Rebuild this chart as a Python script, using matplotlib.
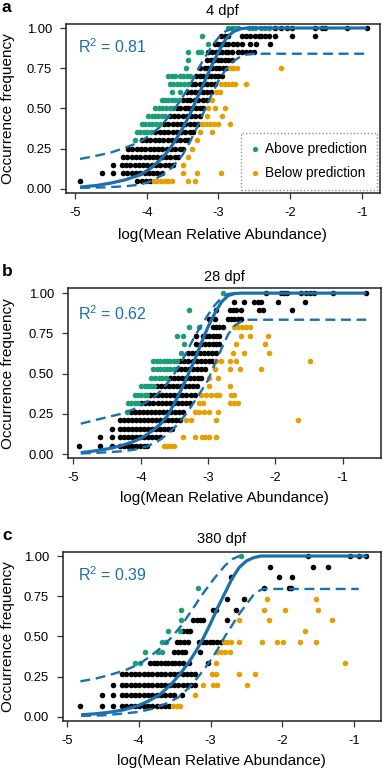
import matplotlib.pyplot as plt
from matplotlib.lines import Line2D

plt.rcParams['font.family'] = ['Liberation Sans', 'DejaVu Sans']
plt.rcParams['axes.unicode_minus'] = False
plt.rcParams['mathtext.fontset'] = 'custom'
plt.rcParams['mathtext.rm'] = 'Liberation Sans'
plt.rcParams['mathtext.it'] = 'Liberation Sans'
plt.rcParams['mathtext.default'] = 'regular'

GREEN = '#1b9e77'
ORANGE = '#e69f00'
BLUE = '#1a6fae'

# ---------------- panel a : 4 dpf (20 samples) ----------------
N_A = 20
A_BLACK = {
    1: [-4.93, -4.13, -4.07, -4.01, -3.96],
    2: [-4.63, -4.47, -4.33, -4.27, -4.21, -4.15, -4.09, -4.03, -3.97, -3.91, -3.85, -3.79],
    3: [-4.47, -4.35, -4.29, -4.23, -4.17, -4.11, -4.05, -3.99, -3.93, -3.87, -3.81, -3.75, -3.69, -3.64],
    4: [-4.33, -4.27, -4.21, -4.15, -4.09, -4.03, -3.97, -3.91, -3.85, -3.79, -3.73, -3.67, -3.61, -3.56],
    5: [-4.26, -4.20, -4.14, -4.08, -4.02, -3.96, -3.90, -3.84, -3.78, -3.72, -3.66, -3.60, -3.54, -3.49],
    6: [-4.07, -4.01, -3.95, -3.89, -3.83, -3.77, -3.71, -3.65, -3.59, -3.53, -3.47, -3.42],
    7: [-3.88, -3.82, -3.76, -3.70, -3.64, -3.58, -3.52, -3.46, -3.40, -3.35],
    8: [-3.76, -3.70, -3.64, -3.58, -3.52, -3.46, -3.40, -3.34, -3.29],
    9: [-3.68, -3.62, -3.56, -3.50, -3.44, -3.38, -3.32, -3.26],
    10: [-3.58, -3.53, -3.47, -3.42, -3.37, -3.31, -3.26, -3.21],
    11: [-3.50, -3.44, -3.39, -3.33, -3.28, -3.22, -3.16],
    12: [-3.44, -3.38, -3.33, -3.27, -3.22, -3.16, -3.11],
    13: [-3.37, -3.32, -3.26, -3.21, -3.16, -3.10, -3.05],
    14: [-3.31, -3.26, -3.21, -3.15, -3.10, -3.05, -3.00, -2.95],
    15: [-3.25, -3.19, -3.14, -3.09, -3.04, -2.99, -2.94, -2.90],
    16: [-3.16, -3.11, -3.06, -3.01, -2.96, -2.91, -2.86, -2.81],
    17: [-3.14, -3.09, -3.04, -2.99, -2.95, -2.90, -2.86, -2.81, -2.72, -2.67, -2.61, -2.56, -2.51],
    18: [-3.05, -3.00, -2.95, -2.91, -2.86, -2.79, -2.74, -2.67, -2.56, -2.47, -2.28],
    19: [-2.96, -2.91, -2.86, -2.67, -2.62, -2.56, -2.49, -2.44, -2.40, -2.35, -2.30, -2.21, -1.98, -1.65],
    20: [-2.21, -2.12, -2.05, -1.97, -1.65, -1.56, -1.51, -1.21, -0.93],
}
A_ABOVE = {
    6: [-4.16],
    7: [-4.14, -4.09, -4.04, -3.99, -3.94],
    8: [-4.07, -4.02, -3.97, -3.92, -3.87, -3.82],
    9: [-3.98, -3.93, -3.88, -3.84, -3.79, -3.74],
    10: [-3.88, -3.83, -3.78, -3.73, -3.68, -3.63],
    11: [-3.79, -3.74, -3.70, -3.65, -3.60, -3.55],
    12: [-3.65, -3.54],
    13: [-3.68, -3.63, -3.58, -3.53, -3.48, -3.43],
    14: [-3.70, -3.65, -3.60, -3.54, -3.49, -3.44, -3.39],
    15: [-3.45],
    16: [-3.42],
    17: [-3.42, -3.28, -3.24],
    18: [-3.14],
    19: [-3.23],
    20: [-2.86, -2.81, -2.77, -2.72, -2.58, -2.53, -2.49, -2.40, -2.35, -2.30],
}
A_BELOW = {
    1: [-3.90, -3.85, -3.80, -3.75, -3.70, -3.65, -3.42, -3.33],
    2: [-3.49, -3.30, -2.97],
    3: [-3.50],
    4: [-3.42],
    5: [-3.37],
    6: [-3.30],
    7: [-3.26, -3.09],
    8: [-3.23, -3.18, -3.12, -3.06, -3.00, -2.84],
    9: [-3.16, -2.95],
    10: [-3.14, -3.05, -2.91],
    11: [-3.09],
    12: [-3.04, -2.98],
    13: [-2.97, -2.91, -2.86, -2.81, -2.77, -2.61],
    15: [-2.84, -2.79, -2.74, -2.12],
}
A_FIT_X = [-4.93, -4.7, -4.5, -4.3, -4.1, -3.95, -3.8, -3.7, -3.6, -3.5, -3.4, -3.3, -3.2,
           -3.1, -3.0, -2.9, -2.8, -2.7, -2.6, -0.93]
A_FIT_Y = [0.01, 0.02, 0.035, 0.055, 0.085, 0.125, 0.185, 0.235, 0.30, 0.375, 0.46, 0.56, 0.66,
           0.76, 0.85, 0.93, 0.975, 0.995, 1.0, 1.0]
A_UP_X = [-4.93, -4.7, -4.5, -4.3, -4.1, -3.95, -3.8, -3.65, -3.5, -3.4, -3.3, -3.2, -3.1,
          -3.0, -2.9, -2.8, -2.7]
A_UP_Y = [0.185, 0.205, 0.225, 0.255, 0.29, 0.335, 0.39, 0.47, 0.57, 0.64, 0.73, 0.81, 0.88,
          0.94, 0.98, 0.998, 1.0]
A_LO_X = [-4.93, -4.6, -4.3, -4.1, -3.95, -3.8, -3.65, -3.5, -3.4, -3.3, -3.2, -3.1, -3.0,
          -2.9, -2.8, -2.7, -2.6, -2.5, -0.93]
A_LO_Y = [0.005, 0.008, 0.015, 0.025, 0.045, 0.08, 0.13, 0.21, 0.29, 0.38, 0.48, 0.58, 0.67,
          0.74, 0.79, 0.82, 0.835, 0.84, 0.84]

# ---------------- panel b : 28 dpf (19 samples) ----------------
N_B = 19
B_BLACK = {
    1: [-4.91, -4.60, -4.43, -4.31, -4.25, -4.19, -4.13, -4.07, -4.01, -3.95, -3.90],
    2: [-4.60, -4.43, -4.31, -4.25, -4.19, -4.13, -4.07, -4.01, -3.95, -3.89, -3.83, -3.77, -3.71],
    3: [-4.43, -4.31, -4.25, -4.19, -4.13, -4.07, -4.01, -3.95, -3.89, -3.83, -3.77, -3.71, -3.65,
        -3.59, -3.54],
    4: [-4.31, -4.25, -4.19, -4.13, -4.07, -4.01, -3.95, -3.89, -3.83, -3.77, -3.71, -3.65, -3.59,
        -3.53, -3.47, -3.42],
    5: [-4.15, -4.09, -4.03, -3.97, -3.91, -3.85, -3.79, -3.73, -3.67, -3.61, -3.55, -3.49, -3.43, -3.37],
    6: [-3.99, -3.93, -3.87, -3.81, -3.75, -3.69, -3.63, -3.57, -3.51, -3.45, -3.39, -3.33, -3.27],
    7: [-3.86, -3.80, -3.74, -3.68, -3.62, -3.56, -3.50, -3.44, -3.38, -3.32, -3.26, -3.20],
    8: [-3.76, -3.70, -3.64, -3.58, -3.52, -3.46, -3.40, -3.34, -3.28, -3.22, -3.16],
    9: [-3.57, -3.51, -3.45, -3.39, -3.33, -3.27, -3.21, -3.15, -3.10],
    10: [-3.46, -3.40, -3.34, -3.28, -3.22, -3.16, -3.10, -3.04],
    11: [-3.41, -3.35, -3.29, -3.23, -3.17, -3.11, -3.05, -2.99, -2.94],
    12: [-3.30, -3.24, -3.18, -3.12, -3.06, -3.00, -2.94, -2.88],
    13: [-3.18, -3.11, -3.05, -2.99, -2.93, -2.88, -2.83],
    14: [-3.18, -3.08, -3.03, -2.98, -2.93, -2.88, -2.83],
    15: [-2.93, -2.88, -2.83, -2.78],
    16: [-2.98, -2.90, -2.71, -2.66, -2.61, -2.56, -2.51],
    17: [-2.88, -2.68, -2.63, -2.58, -2.51, -2.24, -2.19, -1.75],
    18: [-2.61, -2.46, -2.31, -2.26, -2.21, -1.96, -1.56],
    19: [-2.14, -1.92, -1.87, -1.83, -1.62, -1.55, -1.48, -1.42, -1.15, -0.65],
}
B_ABOVE = {
    5: [-4.21],
    6: [-4.19, -4.14, -4.09, -4.04],
    7: [-4.09, -4.04, -3.99, -3.94, -3.90],
    8: [-3.99, -3.94, -3.89, -3.84, -3.80],
    9: [-3.84, -3.79, -3.73, -3.68, -3.62],
    10: [-3.81, -3.76, -3.71, -3.66, -3.61, -3.56, -3.51],
    11: [-3.81, -3.76, -3.71, -3.66, -3.61, -3.56, -3.51, -3.46],
    12: [-3.40],
    13: [-3.35],
    14: [-3.46, -3.37],
    15: [-3.28, -3.13],
    17: [-3.28],
    19: [-2.77],
}
B_BELOW = {
    1: [-3.66, -3.61, -3.56, -3.51],
    2: [-3.37, -3.19, -3.09, -3.04, -2.99, -2.88],
    4: [-3.33, -3.25, -2.88, -1.67],
    5: [-3.20, -3.13, -3.06, -2.99, -2.85],
    6: [-3.13, -3.07, -2.68, -2.61, -2.55],
    7: [-3.10, -3.03, -2.96, -2.88, -2.83, -2.66, -2.61],
    8: [-2.98, -2.68],
    9: [-2.98, -2.85],
    10: [-2.90, -2.68, -2.53, -2.21],
    11: [-2.88, -2.81, -2.68, -2.58, -1.48],
    12: [-2.63, -2.46, -2.09],
    13: [-2.58, -2.16],
    14: [-2.51, -2.38, -2.11],
    15: [-2.61, -2.55, -2.49, -2.43, -2.38],
}
B_FIT_X = [-4.89, -4.7, -4.5, -4.3, -4.1, -3.95, -3.8, -3.7, -3.6, -3.5, -3.4, -3.3, -3.2,
           -3.1, -3.0, -2.9, -2.8, -2.7, -2.6, -2.5, -0.65]
B_FIT_Y = [0.01, 0.02, 0.033, 0.052, 0.08, 0.11, 0.155, 0.19, 0.24, 0.315, 0.4, 0.49, 0.585,
           0.69, 0.79, 0.875, 0.945, 0.985, 0.998, 1.0, 1.0]
B_UP_X = [-4.89, -4.6, -4.3, -4.1, -3.95, -3.8, -3.65, -3.5, -3.4, -3.3, -3.2, -3.1, -3.0,
          -2.9, -2.8, -2.7, -2.6]
B_UP_Y = [0.19, 0.22, 0.25, 0.28, 0.315, 0.355, 0.415, 0.5, 0.57, 0.65, 0.73, 0.80, 0.865,
          0.925, 0.97, 0.995, 1.0]
B_LO_X = [-4.89, -4.6, -4.3, -4.1, -3.9, -3.75, -3.6, -3.45, -3.3, -3.15, -3.0, -2.9, -2.8,
          -2.7, -2.6, -2.5, -2.4, -0.65]
B_LO_Y = [0.005, 0.01, 0.018, 0.028, 0.05, 0.08, 0.125, 0.185, 0.265, 0.36, 0.46, 0.56, 0.655,
          0.745, 0.8, 0.825, 0.835, 0.835]

# ---------------- panel c : 380 dpf (15 samples) ----------------
N_C = 15
C_BLACK = {
    1: [-4.81, -4.51, -4.35, -4.23, -4.17, -4.11, -4.05, -3.99, -3.93, -3.87, -3.81, -3.75, -3.69,
        -3.63, -3.58],
    2: [-4.51, -4.35, -4.23, -4.17, -4.11, -4.05, -3.99, -3.93, -3.87, -3.81, -3.75, -3.69, -3.63,
        -3.57, -3.51, -3.40],
    3: [-4.35, -4.23, -4.17, -4.11, -4.05, -3.99, -3.93, -3.87, -3.81, -3.75, -3.69, -3.63, -3.57,
        -3.51, -3.45, -3.39, -3.33, -3.27, -3.21],
    4: [-4.23, -4.17, -4.11, -4.05, -3.99, -3.93, -3.87, -3.81, -3.75, -3.69, -3.63, -3.57, -3.51,
        -3.45, -3.39, -3.33, -3.27, -3.21],
    5: [-3.84, -3.79, -3.74, -3.69, -3.64, -3.59, -3.54, -3.49, -3.44, -3.39, -3.30, -3.03],
    6: [-3.51, -3.45, -3.40, -3.35, -3.15],
    7: [-3.47, -3.42, -3.37, -3.32, -3.16, -3.11, -3.06, -3.01, -2.96, -2.91, -2.86],
    8: [-3.38, -3.33, -3.28],
    9: [-3.24, -3.19, -3.14, -3.10, -2.77],
    10: [-2.97, -2.92, -2.65],
    11: [-2.77, -2.54],
    12: [-2.26, -1.91, -1.88],
    13: [-2.72, -2.05, -1.87],
    14: [-2.17, -1.57, -1.37],
    15: [-1.64, -1.06, -0.94, -0.84],
}
C_ABOVE = {
    5: [-4.05, -3.98],
    6: [-3.91, -3.73, -3.67],
    7: [-3.67, -3.62],
    8: [-3.59, -3.42],
    9: [-3.41],
    10: [-3.41],
    12: [-3.17],
    15: [-2.58],
}
C_BELOW = {
    1: [-3.52, -3.47, -3.43],
    2: [-3.21],
    3: [-3.10, -2.96, -2.91, -2.49],
    4: [-2.98, -2.92, -2.61, -2.38],
    5: [-2.93, -1.13],
    6: [-2.91, -2.86, -2.80, -2.73],
    7: [-2.81, -2.77, -2.72, -2.61, -2.29, -2.08, -1.99, -1.76, -1.54],
    8: [-1.68],
    9: [-2.61, -2.19, -1.31],
    10: [-2.26, -1.96, -1.50],
    11: [-2.22, -1.53],
}
C_FIT_X = [-4.8, -4.6, -4.4, -4.2, -4.0, -3.85, -3.7, -3.55, -3.4, -3.3, -3.2, -3.1, -3.0,
           -2.9, -2.8, -2.7, -2.6, -2.5, -2.4, -2.3, -0.82]
C_FIT_Y = [0.012, 0.018, 0.028, 0.043, 0.07, 0.1, 0.14, 0.2, 0.28, 0.34, 0.41, 0.49, 0.58,
           0.68, 0.77, 0.86, 0.93, 0.97, 0.99, 1.0, 1.0]
C_UP_X = [-4.81, -4.6, -4.4, -4.2, -4.0, -3.85, -3.7, -3.55, -3.4, -3.25, -3.1, -2.95, -2.8,
          -2.7, -2.6]
C_UP_Y = [0.22, 0.237, 0.26, 0.287, 0.325, 0.372, 0.425, 0.49, 0.57, 0.67, 0.77, 0.86, 0.94,
          0.98, 1.0]
C_LO_X = [-4.8, -4.5, -4.2, -4.0, -3.8, -3.6, -3.45, -3.3, -3.15, -3.0, -2.9, -2.8, -2.7,
          -2.6, -2.5, -2.4, -2.3, -2.25, -0.94]
C_LO_Y = [0.005, 0.008, 0.02, 0.03, 0.05, 0.085, 0.12, 0.18, 0.26, 0.35, 0.42, 0.5, 0.57,
          0.64, 0.7, 0.76, 0.79, 0.795, 0.795]

X_TICKS = [-5, -4, -3, -2, -1]
Y_TICKS = [0.0, 0.25, 0.5, 0.75, 1.0]
Y_TICK_LABELS = ['0.00', '0.25', '0.50', '0.75', '1.00']


def flatten(rows, n):
    xs, ys = [], []
    for k, row in rows.items():
        xs += row
        ys += [k / n] * len(row)
    return xs, ys


def draw_panel(ax, black, above, below, n, fit, up, lo, xlim, ylim):
    for rows, col in ((black, 'black'), (above, GREEN), (below, ORANGE)):
        x, y = flatten(rows, n)
        ax.scatter(x, y, s=16, color=col, linewidths=0, zorder=2)
    ax.plot(up[0], up[1], color=BLUE, lw=1.7, dashes=(4.2, 2.4), zorder=3)
    ax.plot(lo[0], lo[1], color=BLUE, lw=1.7, dashes=(4.2, 2.4), zorder=3)
    ax.plot(fit[0], fit[1], color=BLUE, lw=2.3, zorder=4, solid_capstyle='butt')
    ax.set_xlim(*xlim)
    ax.set_ylim(*ylim)
    ax.set_xticks(X_TICKS)
    ax.set_xticklabels([str(t) for t in X_TICKS])
    ax.set_yticks(Y_TICKS)
    ax.set_yticklabels(Y_TICK_LABELS)
    ax.tick_params(direction='out', length=4, width=0.9, labelsize=9.4, pad=6, color='#333333')
    for sp in ax.spines.values():
        sp.set_linewidth(1.1)
        sp.set_color('#222222')


fig = plt.figure(figsize=(3.83, 7.72), dpi=100)
W, H = 383.0, 772.0

panels = [
    ('a', '4 dpf', '0.81', [65.7, 24, 380, 192.7], (-5.13, -0.746), (-0.025, 1.025),
     A_BLACK, A_ABOVE, A_BELOW, N_A, (A_FIT_X, A_FIT_Y), (A_UP_X, A_UP_Y), (A_LO_X, A_LO_Y),
     7.5, 10.5, 47, 235),
    ('b', '28 dpf', '0.62', [68, 288.3, 381, 458.3], (-5.08, -0.43), (-0.025, 1.03),
     B_BLACK, B_ABOVE, B_BELOW, N_B, (B_FIT_X, B_FIT_Y), (B_UP_X, B_UP_Y), (B_LO_X, B_LO_Y),
     271, 277, 313.5, 498.5),
    ('c', '380 dpf', '0.39', [62.7, 552, 381, 720.7], (-5.056, -0.63), (-0.025, 1.025),
     C_BLACK, C_ABOVE, C_BELOW, N_C, (C_FIT_X, C_FIT_Y), (C_UP_X, C_UP_Y), (C_LO_X, C_LO_Y),
     535, 538.5, 575, 761.5),
]

for (lab, title, r2, box, xlim, ylim, black, above, below, n, fit, up, lo,
     lab_y, title_y, r2_y, xlab_y) in panels:
    x0, y0, x1, y1 = box
    ax = fig.add_axes([x0 / W, 1 - y1 / H, (x1 - x0) / W, (y1 - y0) / H])
    draw_panel(ax, black, above, below, n, fit, up, lo, xlim, ylim)
    fig.text(2 / W, 1 - lab_y / H, lab, fontsize=12.5, fontweight='bold', va='center', ha='left')
    fig.text((x0 + x1) / 2 / W, 1 - title_y / H, title, fontsize=10.5, va='center', ha='center')
    fig.text(78 / W, 1 - r2_y / H, 'R$^2$ = ' + r2, fontsize=11.5, color=BLUE,
             va='center', ha='left')
    fig.text((x0 + x1) / 2 / W, 1 - xlab_y / H, 'log(Mean Relative Abundance)', fontsize=11,
             va='center', ha='center')
    fig.text(8.5 / W, 1 - (y0 + y1) / 2 / H, 'Occurrence frequency', fontsize=11,
             rotation=90, va='center', ha='center')
    if lab == 'a':
        handles = [Line2D([], [], marker='o', ls='', color=GREEN, markersize=3.8, markeredgewidth=0),
                   Line2D([], [], marker='o', ls='', color=ORANGE, markersize=3.8, markeredgewidth=0)]
        leg = ax.legend(handles, ['Above prediction', 'Below prediction'], loc='lower right',
                        bbox_to_anchor=(0.99, 0.016), borderaxespad=0, fontsize=9.8,
                        frameon=True, fancybox=False, handlelength=0.6, handletextpad=0.5,
                        labelspacing=0.75, borderpad=0.7)
        fr = leg.get_frame()
        fr.set_edgecolor('#777777')
        fr.set_linestyle((0, (1, 1.5)))
        fr.set_linewidth(1.0)

fig.savefig('out.png', dpi=100)
